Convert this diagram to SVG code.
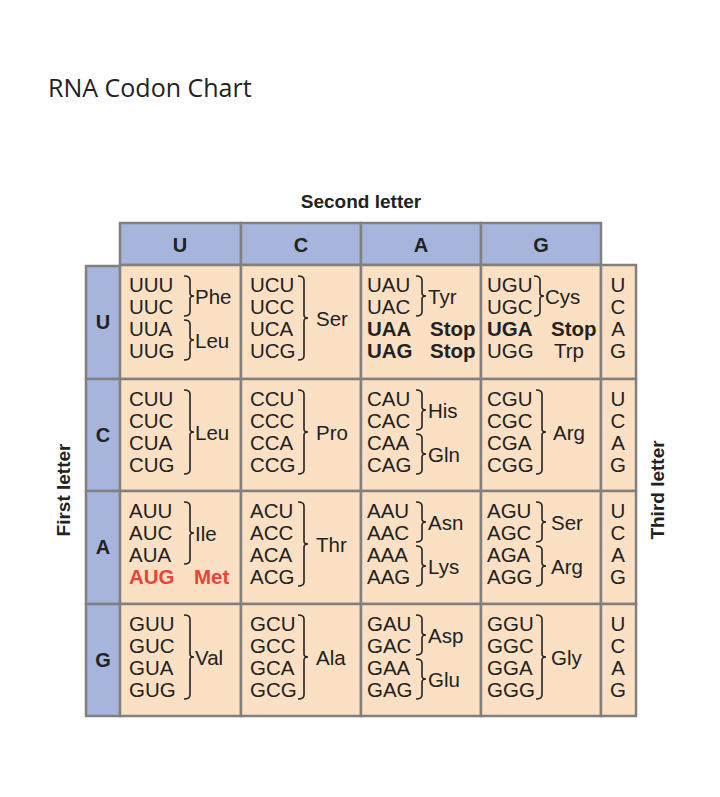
<svg xmlns="http://www.w3.org/2000/svg" width="720" height="797" viewBox="0 0 720 797">
<style>
.hd{fill:#a7b5dd;stroke:#808080;stroke-width:2.5}
.cl{fill:#fbe0c3;stroke:#808080;stroke-width:2.5}
text{font-family:"Liberation Sans",Arial,sans-serif;fill:#222}
.c{font-size:20.5px}
.b{font-weight:bold}
.m{text-anchor:middle}
.red{fill:#e8443a;font-weight:bold}
.br{fill:none;stroke:#222;stroke-width:1.6}
</style>
<rect width="720" height="797" fill="#fff"/>
<text x="48" y="97" style="font-family:'Open Sans','Liberation Sans',sans-serif;font-size:25px" fill="#000">RNA Codon Chart</text>
<text x="361" y="208" class="b m" font-size="19">Second letter</text>
<text transform="translate(70,490) rotate(-90)" class="b m" font-size="19">First letter</text>
<text transform="translate(664,490) rotate(-90)" class="b m" font-size="19">Third letter</text>
<g id="headers">
<rect class="hd" x="120" y="223" width="121" height="42"/><rect class="hd" x="241" y="223" width="120" height="42"/><rect class="hd" x="361" y="223" width="120" height="42"/><rect class="hd" x="481" y="223" width="120" height="42"/>
<text x="180" y="252" class="b m" font-size="20">U</text><text x="301" y="252" class="b m" font-size="20">C</text><text x="421" y="252" class="b m" font-size="20">A</text><text x="541" y="252" class="b m" font-size="20">G</text>
<rect class="hd" x="86" y="266" width="34" height="113"/><rect class="hd" x="86" y="379" width="34" height="112"/><rect class="hd" x="86" y="491" width="34" height="113"/><rect class="hd" x="86" y="604" width="34" height="112"/>
<text x="103" y="329" class="b m" font-size="20">U</text><text x="103" y="442" class="b m" font-size="20">C</text><text x="103" y="554" class="b m" font-size="20">A</text><text x="103" y="667" class="b m" font-size="20">G</text>
</g>
<g id="cells">
<rect class="cl" x="120" y="265" width="121" height="114"/><rect class="cl" x="241" y="265" width="120" height="114"/><rect class="cl" x="361" y="265" width="120" height="114"/><rect class="cl" x="481" y="265" width="120" height="114"/><rect class="cl" x="601" y="265" width="35" height="114"/>
<rect class="cl" x="120" y="379" width="121" height="112"/><rect class="cl" x="241" y="379" width="120" height="112"/><rect class="cl" x="361" y="379" width="120" height="112"/><rect class="cl" x="481" y="379" width="120" height="112"/><rect class="cl" x="601" y="379" width="35" height="112"/>
<rect class="cl" x="120" y="491" width="121" height="113"/><rect class="cl" x="241" y="491" width="120" height="113"/><rect class="cl" x="361" y="491" width="120" height="113"/><rect class="cl" x="481" y="491" width="120" height="113"/><rect class="cl" x="601" y="491" width="35" height="113"/>
<rect class="cl" x="120" y="604" width="121" height="112"/><rect class="cl" x="241" y="604" width="120" height="112"/><rect class="cl" x="361" y="604" width="120" height="112"/><rect class="cl" x="481" y="604" width="120" height="112"/><rect class="cl" x="601" y="604" width="35" height="112"/>
</g>
<g id="row-U" class="c">
<text x="129" y="292">UUU</text><text x="129" y="314">UUC</text><text x="129" y="336">UUA</text><text x="129" y="358">UUG</text>
<text x="195" y="304">Phe</text><text x="195" y="348">Leu</text>
<text x="250" y="292">UCU</text><text x="250" y="314">UCC</text><text x="250" y="336">UCA</text><text x="250" y="358">UCG</text><text x="316" y="326">Ser</text>
<text x="367" y="292">UAU</text><text x="367" y="314">UAC</text><text x="428" y="304">Tyr</text>
<text x="367" y="336" class="b">UAA</text><text x="430" y="336" class="b">Stop</text><text x="367" y="358" class="b">UAG</text><text x="430" y="358" class="b">Stop</text>
<text x="487" y="292">UGU</text><text x="487" y="314">UGC</text><text x="545" y="304">Cys</text>
<text x="487" y="336" class="b">UGA</text><text x="551" y="336" class="b">Stop</text><text x="487" y="358">UGG</text><text x="554" y="358">Trp</text>
<text x="618" y="292" class="m">U</text><text x="618" y="314" class="m">C</text><text x="618" y="336" class="m">A</text><text x="618" y="358" class="m">G</text>
</g>
<g id="row-C" class="c">
<text x="129" y="406">CUU</text><text x="129" y="428">CUC</text><text x="129" y="450">CUA</text><text x="129" y="472">CUG</text><text x="195" y="440">Leu</text>
<text x="250" y="406">CCU</text><text x="250" y="428">CCC</text><text x="250" y="450">CCA</text><text x="250" y="472">CCG</text><text x="316" y="440">Pro</text>
<text x="367" y="406">CAU</text><text x="367" y="428">CAC</text><text x="367" y="450">CAA</text><text x="367" y="472">CAG</text><text x="428" y="418">His</text><text x="428" y="462">Gln</text>
<text x="487" y="406">CGU</text><text x="487" y="428">CGC</text><text x="487" y="450">CGA</text><text x="487" y="472">CGG</text><text x="553" y="440">Arg</text>
<text x="618" y="406" class="m">U</text><text x="618" y="428" class="m">C</text><text x="618" y="450" class="m">A</text><text x="618" y="472" class="m">G</text>
</g>
<g id="row-A" class="c">
<text x="129" y="518">AUU</text><text x="129" y="540">AUC</text><text x="129" y="562">AUA</text><text x="195" y="541">Ile</text>
<text x="129" y="584" class="red">AUG</text><text x="194" y="584" class="red">Met</text>
<text x="250" y="518">ACU</text><text x="250" y="540">ACC</text><text x="250" y="562">ACA</text><text x="250" y="584">ACG</text><text x="316" y="552">Thr</text>
<text x="367" y="518">AAU</text><text x="367" y="540">AAC</text><text x="367" y="562">AAA</text><text x="367" y="584">AAG</text><text x="428" y="530">Asn</text><text x="428" y="574">Lys</text>
<text x="487" y="518">AGU</text><text x="487" y="540">AGC</text><text x="487" y="562">AGA</text><text x="487" y="584">AGG</text><text x="551" y="530">Ser</text><text x="551" y="574">Arg</text>
<text x="618" y="518" class="m">U</text><text x="618" y="540" class="m">C</text><text x="618" y="562" class="m">A</text><text x="618" y="584" class="m">G</text>
</g>
<g id="row-G" class="c">
<text x="129" y="631">GUU</text><text x="129" y="653">GUC</text><text x="129" y="675">GUA</text><text x="129" y="697">GUG</text><text x="195" y="665">Val</text>
<text x="250" y="631">GCU</text><text x="250" y="653">GCC</text><text x="250" y="675">GCA</text><text x="250" y="697">GCG</text><text x="316" y="665">Ala</text>
<text x="367" y="631">GAU</text><text x="367" y="653">GAC</text><text x="367" y="675">GAA</text><text x="367" y="697">GAG</text><text x="428" y="643">Asp</text><text x="428" y="687">Glu</text>
<text x="487" y="631">GGU</text><text x="487" y="653">GGC</text><text x="487" y="675">GGA</text><text x="487" y="697">GGG</text><text x="551" y="665">Gly</text>
<text x="618" y="631" class="m">U</text><text x="618" y="653" class="m">C</text><text x="618" y="675" class="m">A</text><text x="618" y="697" class="m">G</text>
</g>
<g id="braces" class="br">
<path d="M184 276q6 0 6 4V293q0 3 4 3q-4 0-4 3V312q0 4-6 4"/>
<path d="M184 320q6 0 6 4V337q0 3 4 3q-4 0-4 3V356q0 4-6 4"/>
<path d="M298 276q6 0 6 4V315q0 3 4 3q-4 0-4 3V356q0 4-6 4"/>
<path d="M416 276q6 0 6 4V293q0 3 4 3q-4 0-4 3V312q0 4-6 4"/>
<path d="M534 276q6 0 6 4V293q0 3 4 3q-4 0-4 3V312q0 4-6 4"/>
<path d="M184 390q6 0 6 4V429q0 3 4 3q-4 0-4 3V470q0 4-6 4"/>
<path d="M298 390q6 0 6 4V429q0 3 4 3q-4 0-4 3V470q0 4-6 4"/>
<path d="M416 390q6 0 6 4V407q0 3 4 3q-4 0-4 3V426q0 4-6 4"/>
<path d="M416 434q6 0 6 4V451q0 3 4 3q-4 0-4 3V470q0 4-6 4"/>
<path d="M536 390q6 0 6 4V429q0 3 4 3q-4 0-4 3V470q0 4-6 4"/>
<path d="M184 502q6 0 6 4V530q0 3 4 3q-4 0-4 3V560q0 4-6 4"/>
<path d="M298 502q6 0 6 4V541q0 3 4 3q-4 0-4 3V582q0 4-6 4"/>
<path d="M416 502q6 0 6 4V519q0 3 4 3q-4 0-4 3V538q0 4-6 4"/>
<path d="M416 546q6 0 6 4V563q0 3 4 3q-4 0-4 3V582q0 4-6 4"/>
<path d="M536 502q6 0 6 4V519q0 3 4 3q-4 0-4 3V538q0 4-6 4"/>
<path d="M536 546q6 0 6 4V563q0 3 4 3q-4 0-4 3V582q0 4-6 4"/>
<path d="M184 615q6 0 6 4V654q0 3 4 3q-4 0-4 3V695q0 4-6 4"/>
<path d="M298 615q6 0 6 4V654q0 3 4 3q-4 0-4 3V695q0 4-6 4"/>
<path d="M416 615q6 0 6 4V632q0 3 4 3q-4 0-4 3V651q0 4-6 4"/>
<path d="M416 659q6 0 6 4V676q0 3 4 3q-4 0-4 3V695q0 4-6 4"/>
<path d="M536 615q6 0 6 4V654q0 3 4 3q-4 0-4 3V695q0 4-6 4"/>
</g>
</svg>
